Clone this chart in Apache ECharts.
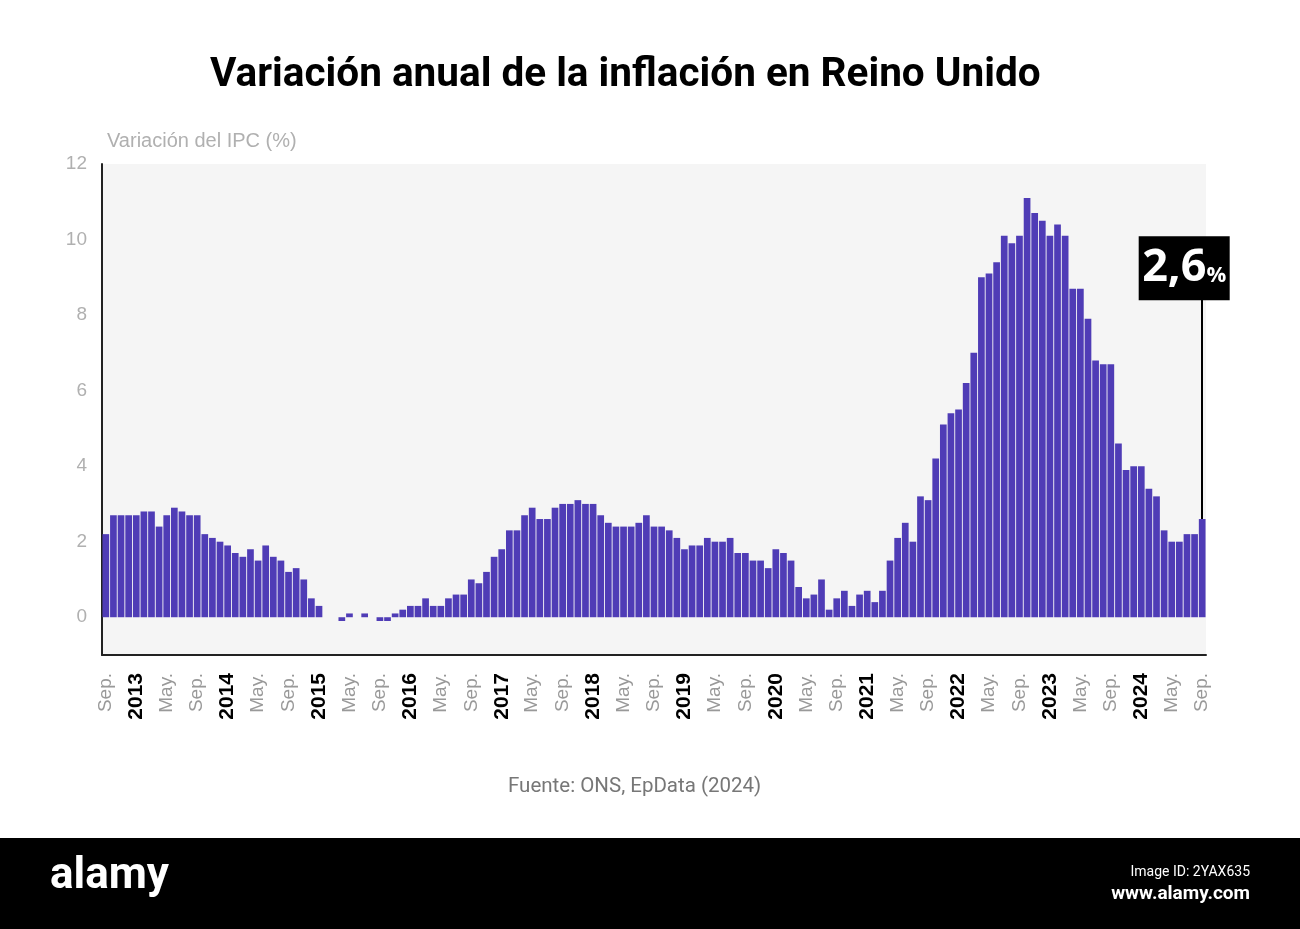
<!DOCTYPE html>
<html>
<head>
<meta charset="utf-8">
<title>Variación anual de la inflación en Reino Unido</title>
<script src="https://cdn.jsdelivr.net/npm/echarts@6/dist/echarts.min.js"></script>
<style>
  html, body { margin: 0; padding: 0; background: #fff; }
  #chart { width: 1300px; height: 929px; }
</style>
</head>
<body>
<div id="chart"></div>
<script>
// IPC Reino Unido, variación anual (%), de sep. 2012 a sep. 2024
const startYear = 2012;
const startMonth = 9;
const cpi2012 = [2.2, 2.7, 2.7, 2.7];
const cpi2013 = [2.7, 2.8, 2.8, 2.4, 2.7, 2.9, 2.8, 2.7, 2.7, 2.2, 2.1, 2.0];
const cpi2014 = [1.9, 1.7, 1.6, 1.8, 1.5, 1.9, 1.6, 1.5, 1.2, 1.3, 1.0, 0.5];
const cpi2015 = [0.3, 0.0, 0.0, -0.1, 0.1, 0.0, 0.1, 0.0, -0.1, -0.1, 0.1, 0.2];
const cpi2016 = [0.3, 0.3, 0.5, 0.3, 0.3, 0.5, 0.6, 0.6, 1.0, 0.9, 1.2, 1.6];
const cpi2017 = [1.8, 2.3, 2.3, 2.7, 2.9, 2.6, 2.6, 2.9, 3.0, 3.0, 3.1, 3.0];
const cpi2018 = [3.0, 2.7, 2.5, 2.4, 2.4, 2.4, 2.5, 2.7, 2.4, 2.4, 2.3, 2.1];
const cpi2019 = [1.8, 1.9, 1.9, 2.1, 2.0, 2.0, 2.1, 1.7, 1.7, 1.5, 1.5, 1.3];
const cpi2020 = [1.8, 1.7, 1.5, 0.8, 0.5, 0.6, 1.0, 0.2, 0.5, 0.7, 0.3, 0.6];
const cpi2021 = [0.7, 0.4, 0.7, 1.5, 2.1, 2.5, 2.0, 3.2, 3.1, 4.2, 5.1, 5.4];
const cpi2022 = [5.5, 6.2, 7.0, 9.0, 9.1, 9.4, 10.1, 9.9, 10.1, 11.1, 10.7, 10.5];
const cpi2023 = [10.1, 10.4, 10.1, 8.7, 8.7, 7.9, 6.8, 6.7, 6.7, 4.6, 3.9, 4.0];
const cpi2024 = [4.0, 3.4, 3.2, 2.3, 2.0, 2.0, 2.2, 2.2, 2.6];

// etiquetas del eje: cada 4 meses
const monthTicks = { 1: null, 5: 'May.', 9: 'Sep.' };
const yTicks = [0, 2, 4, 6, 8, 10, 12];
const lastLabel = '2,6';

const values = [].concat(cpi2012, cpi2013, cpi2014, cpi2015, cpi2016, cpi2017,
  cpi2018, cpi2019, cpi2020, cpi2021, cpi2022, cpi2023, cpi2024);

const months = [];
for (let i = 0; i < values.length; i++) {
  const m = (startMonth - 1 + i) % 12 + 1;
  const y = startYear + Math.floor((startMonth - 1 + i) / 12);
  months.push(y + '-' + (m < 10 ? '0' + m : m));
}
const lastCat = months[months.length - 1];
const lastVal = values[values.length - 1];

const chart = echarts.init(document.getElementById('chart'));

chart.setOption({
  backgroundColor: '#fff',
  animation: false,
  title: {
    text: 'Variación anual de la inflación en Reino Unido',
    left: 205,
    top: 50,
    textStyle: { fontFamily: 'Roboto', fontWeight: 'bold', fontSize: 40.5, color: '#000' }
  },
  grid: {
    left: 102, right: 94, top: 164, bottom: 274,
    show: true, backgroundColor: '#f5f5f5', borderWidth: 0
  },
  xAxis: {
    type: 'category',
    data: months,
    axisLine: { onZero: false, lineStyle: { color: '#222', width: 2 } },
    axisTick: { show: false },
    axisLabel: {
      interval: function (i) { return i % 4 === 0; },
      rotate: 90,
      margin: 18,
      formatter: function (v) {
        const y = v.slice(0, 4);
        const m = +v.slice(5);
        if (m === 1) return '{y|' + y + '}';
        return '{m|' + monthTicks[m] + '}';
      },
      rich: {
        y: { fontFamily: 'Liberation Sans', fontWeight: 'bold', fontSize: 21, color: '#000' },
        m: { fontFamily: 'Liberation Sans', fontSize: 19, color: '#999' }
      }
    }
  },
  yAxis: {
    type: 'value',
    min: -1,
    max: 12,
    interval: 1,
    name: 'Variación del IPC (%)',
    nameLocation: 'end',
    nameGap: 13,
    nameTextStyle: { fontFamily: 'Liberation Sans', fontSize: 20, color: '#b0b0b0', align: 'left', padding: [0, 0, 0, 5] },
    axisLine: { show: true, lineStyle: { color: '#222', width: 2 } },
    axisTick: { show: false },
    splitLine: { show: false },
    axisLabel: {
      margin: 15,
      fontFamily: 'Liberation Sans',
      fontSize: 19,
      color: '#b0b0b0',
      formatter: function (v) { return yTicks.indexOf(v) >= 0 ? String(v) : ''; }
    }
  },
  series: [{
    type: 'bar',
    data: values,
    barCategoryGap: '12%',
    itemStyle: { color: '#4f3cb6' },
    markLine: {
      silent: true,
      symbol: ['none', 'none'],
      label: { show: false },
      lineStyle: { color: '#000', width: 2, type: 'solid' },
      data: [[{ coord: [lastCat, lastVal] }, { coord: [lastCat, 8.4] }]]
    },
    markPoint: {
      silent: true,
      data: [{
        coord: [lastCat, 9.24],
        symbol: 'rect',
        symbolSize: [91, 64],
        symbolOffset: [-18, 0],
        itemStyle: { color: '#000' },
        label: {
          show: true,
          position: 'inside',
          formatter: '{a|' + lastLabel + '}{b|%}',
          rich: {
            a: { fontFamily: 'Open Sans', fontWeight: 'bold', fontSize: 45, color: '#fff' },
            b: { fontFamily: 'Open Sans', fontWeight: 'bold', fontSize: 22, color: '#fff', padding: [14, 0, 0, 0] }
          }
        }
      }]
    }
  }],
  graphic: [
    {
      type: 'text', left: 508, top: 776,
      style: { text: 'Fuente: ONS, EpData (2024)', fontFamily: 'Roboto', fontSize: 20.5, fill: '#777' }
    },
    { type: 'rect', left: 0, top: 838, shape: { width: 1300, height: 91 }, style: { fill: '#000' } },
    {
      type: 'text', left: 50, top: 855,
      style: { text: 'alamy', fontFamily: 'Roboto', fontWeight: 'bold', fontSize: 44, fill: '#fff' }
    },
    {
      type: 'text', right: 50, top: 865,
      style: { text: 'Image ID: 2YAX635', fontFamily: 'Roboto', fontSize: 14, fill: '#fff', align: 'right' }
    },
    {
      type: 'text', right: 50, top: 885,
      style: { text: 'www.alamy.com', fontFamily: 'Roboto', fontWeight: 'bold', fontSize: 19, fill: '#fff', align: 'right' }
    }
  ]
});
</script>
</body>
</html>
